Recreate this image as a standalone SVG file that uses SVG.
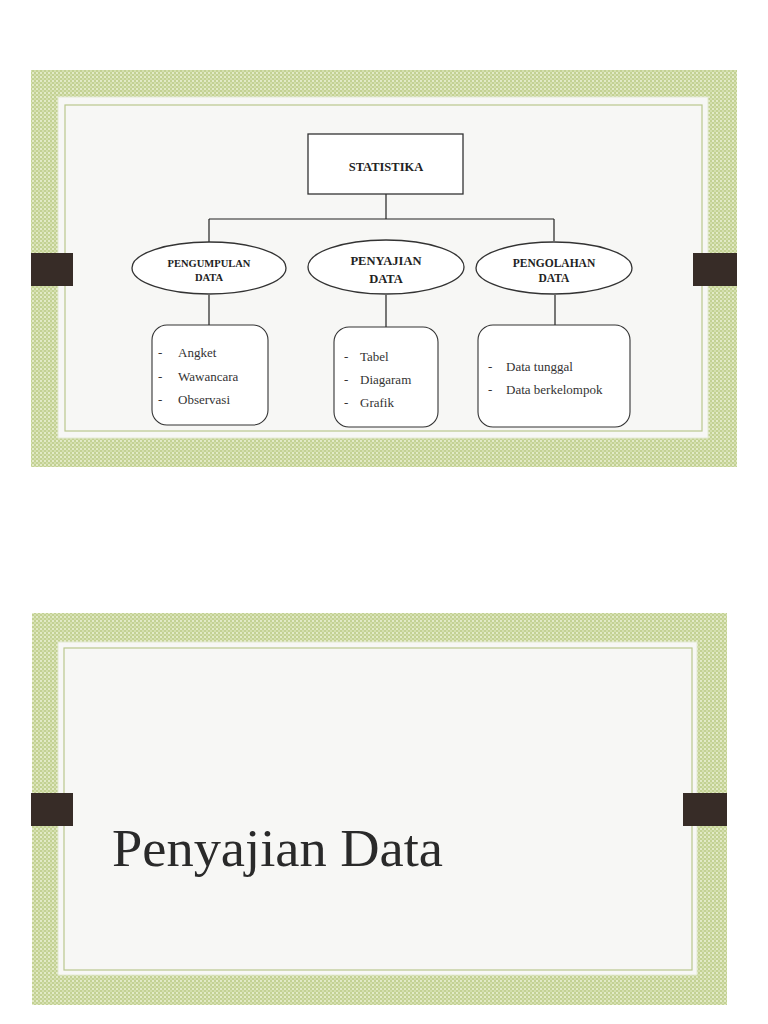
<svg xmlns="http://www.w3.org/2000/svg" width="768" height="1024" viewBox="0 0 768 1024">
<defs>
<pattern id="weave" width="4" height="4" patternUnits="userSpaceOnUse">
<rect width="4" height="4" fill="#c3d193"/>
<rect x="0" y="0" width="2" height="2" fill="#e2eac6"/>
<rect x="2" y="2" width="2" height="2" fill="#d4dfae"/>
</pattern>
<style>
.frame{fill:url(#weave)}
.panel{fill:#f7f7f5;stroke:#e4ead3;stroke-width:1}
.inner{fill:none;stroke:#b9c78e;stroke-width:1.2}
.tab{fill:#372c27}
.ln{fill:none;stroke:#222;stroke-width:1.2}
.node{fill:#fff;stroke:#333;stroke-width:1.3}
.box{fill:#fff;stroke:#333;stroke-width:1.1}
.cap{font-family:"Liberation Serif",serif;font-weight:bold;fill:#222;text-anchor:middle}
.item{font-family:"Liberation Serif",serif;font-size:13px;fill:#333}
</style>
</defs>
<rect width="768" height="1024" fill="#ffffff"/>

<!-- Slide 1 -->
<g id="slide1">
<rect class="frame" x="31" y="70" width="706" height="397"/>
<rect class="panel" x="58" y="97" width="650" height="341"/>
<rect class="inner" x="65" y="105" width="637" height="326"/>
<rect class="tab" x="31" y="253" width="42" height="33"/>
<rect class="tab" x="693" y="253" width="44" height="33"/>
</g>

<g id="connectors">
<path class="ln" d="M386 194 V219 M209 219 H554 M209 219 V242 M554 219 V241 M386 295 V327 M209 295 V325 M555 295 V325"/>
</g>

<g id="statistika">
<rect class="node" x="308" y="134" width="155" height="60"/>
<text class="cap" x="386" y="171" font-size="12.5">STATISTIKA</text>
</g>
<g id="pengumpulan">
<ellipse class="node" cx="209" cy="268" rx="77" ry="26"/>
<text class="cap" x="209" y="267" font-size="10.5">PENGUMPULAN</text>
<text class="cap" x="209" y="281" font-size="10.5">DATA</text>
</g>
<g id="penyajian">
<ellipse class="node" cx="386" cy="267" rx="78" ry="27"/>
<text class="cap" x="386" y="265" font-size="12.5">PENYAJIAN</text>
<text class="cap" x="386" y="283" font-size="12.5">DATA</text>
</g>
<g id="pengolahan">
<ellipse class="node" cx="554" cy="268" rx="78" ry="26"/>
<text class="cap" x="554" y="267" font-size="11.5">PENGOLAHAN</text>
<text class="cap" x="554" y="282" font-size="11.5">DATA</text>
</g>

<g id="box-pengumpulan">
<rect class="box" x="152" y="325" width="116" height="100" rx="15"/>
<text class="item" x="158" y="357">-</text><text class="item" x="178" y="357">Angket</text>
<text class="item" x="158" y="381">-</text><text class="item" x="178" y="381">Wawancara</text>
<text class="item" x="158" y="404">-</text><text class="item" x="178" y="404">Observasi</text>
</g>
<g id="box-penyajian">
<rect class="box" x="334" y="327" width="104" height="100" rx="15"/>
<text class="item" x="344" y="361">-</text><text class="item" x="360" y="361">Tabel</text>
<text class="item" x="344" y="384">-</text><text class="item" x="360" y="384">Diagaram</text>
<text class="item" x="344" y="407">-</text><text class="item" x="360" y="407">Grafik</text>
</g>
<g id="box-pengolahan">
<rect class="box" x="478" y="325" width="152" height="102" rx="15"/>
<text class="item" x="488" y="371">-</text><text class="item" x="506" y="371">Data tunggal</text>
<text class="item" x="488" y="394">-</text><text class="item" x="506" y="394">Data berkelompok</text>
</g>

<!-- Slide 2 -->
<g id="slide2">
<rect class="frame" x="32" y="613" width="695" height="392"/>
<rect class="panel" x="58" y="642" width="639" height="333"/>
<rect class="inner" x="64" y="648" width="628" height="322"/>
<rect class="tab" x="31" y="793" width="42" height="33"/>
<rect class="tab" x="683" y="793" width="44" height="33"/>
<text x="112" y="866" font-family="Liberation Serif, serif" font-size="52" fill="#2a2a2a" textLength="331" lengthAdjust="spacingAndGlyphs">Penyajian Data</text>
</g>
</svg>
